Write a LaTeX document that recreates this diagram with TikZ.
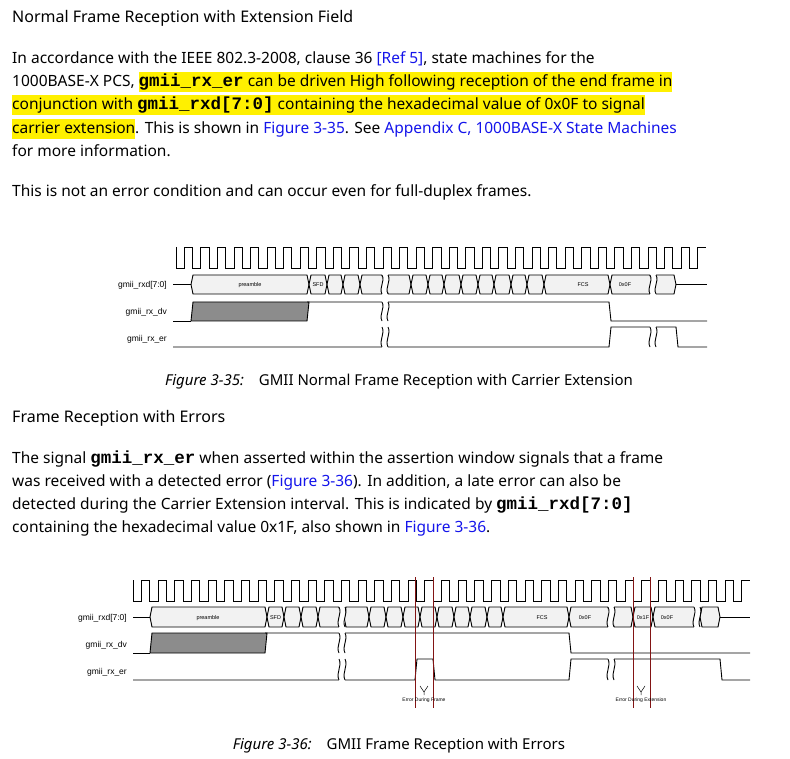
\documentclass[tikz,border=0pt]{standalone}
\usepackage{fontspec}
\setmainfont{Noto Sans}
\newfontfamily\monof{Liberation Mono}
\newfontfamily\diagf{Liberation Sans}
\definecolor{lnk}{RGB}{20,20,235}
\definecolor{hly}{RGB}{255,240,0}
\definecolor{errred}{RGB}{130,20,20}
\definecolor{cellg}{RGB}{242,242,242}
\definecolor{darkg}{RGB}{140,140,140}
\newcommand\lk[1]{\textcolor{lnk}{#1}}
\newcommand\mono[1]{{\fontsize{17.5}{18}\monof\bfseries #1}}
\newcommand\hlt[1]{{\fboxsep=0pt\colorbox{hly}{\rule[-5.5pt]{0pt}{20pt}#1}}}
\tikzset{
  sig/.style={line width=0.9pt,line join=miter},
  cellst/.style={sig,fill=cellg},
  txt/.style={anchor=base west,inner sep=0pt,font=\fontsize{15.5}{18}\selectfont},
  figcap/.style={anchor=base,inner sep=0pt,font=\fontsize{15}{18}\selectfont},
  siglab/.style={anchor=east,inner sep=0pt,font=\diagf\fontsize{8.5}{10}\selectfont},
  celllab/.style={inner sep=0pt,font=\diagf\fontsize{5.5}{6}\selectfont},
  errlab/.style={anchor=base,inner sep=0pt,font=\diagf\fontsize{5}{6}\selectfont},
  errline/.style={errred,line width=0.8pt}
}
\newcommand\tdcell[5]{\filldraw[cellst] (#1,#4)--({#1+2},#3)--({#2-2},#3)--(#2,#4)--({#2-2},#5)--({#1+2},#5)--cycle;}
\newcommand\tdbrk[3]{%
  \fill[white] ({#1},{#2-1}) rectangle ({#1+6},{#3+1});
  \draw[sig] (#1,#2) .. controls ({#1+3.5},{#2+(#3-#2)*0.35}) and ({#1-3.5},{#2+(#3-#2)*0.65}) .. (#1,#3);
  \draw[sig] ({#1+6},#2) .. controls ({#1+9.5},{#2+(#3-#2)*0.35}) and ({#1+2.5},{#2+(#3-#2)*0.65}) .. ({#1+6},#3);}
\newcommand\tdclk[5]{\draw[sig] (#1,#2) foreach \i in {1,...,#4}{ -- ++(0,{#3-#2}) -- ++(#5,0) -- ++(0,{#2-#3}) -- ++(#5,0)};}
\begin{document}
\begin{tikzpicture}[x=1pt,y=-1pt]
\useasboundingbox[fill=white] (0,0) rectangle (790,759);
% ---------- text block 1
\node[txt,font=\fontsize{16}{18}\selectfont\bfseries] (t1) at (12,23) {Normal Frame Reception with Extension Field};
\node[txt] (p1) at (12,64) {In accordance with the IEEE 802.3-2008, clause 36 \lk{[Ref 5]}, state machines for the};
\node[txt] (p2) at (12,87) {1000BASE-X PCS, \hlt{\mono{gmii\_rx\_er} can be driven High following reception of the end frame in}};
\node[txt] (p3) at (12,110) {\hlt{conjunction with \mono{gmii\_rxd[7:0]} containing the hexadecimal value of 0x0F to signal}};
\node[txt] (p4) at (12,134) {\hlt{carrier extension}. This is shown in \lk{Figure 3-35}. See \lk{Appendix C, 1000BASE-X State Machines}};
\node[txt] (p5) at (12,157) {for more information.};
\node[txt] (p6) at (12,197) {This is not an error condition and can occur even for full-duplex frames.};
% ---------- diagram 1
\tdclk{176}{247}{268}{32}{8.28}
\node[siglab] (l1a) at (167,285) {gmii\_rxd[7:0]};
\node[siglab] (l1b) at (167,312) {gmii\_rx\_dv};
\node[siglab] (l1c) at (167,339) {gmii\_rx\_er};
\draw[sig] (173,284.5) -- (191,284.5);
\tdcell{191}{309}{275}{284.5}{294}
\tdcell{309}{327}{275}{284.5}{294}
\tdcell{327}{343}{275}{284.5}{294}
\tdcell{343}{360}{275}{284.5}{294}
\tdcell{360}{384}{275}{284.5}{294}
\tdcell{386}{411}{275}{284.5}{294}
\foreach \a/\b in {411/428,428/444,444/461,461/478,478/494,494/511,511/527,527/544}{\tdcell{\a}{\b}{275}{284.5}{294}}
\tdcell{544}{610}{275}{284.5}{294}
\tdcell{610}{652}{275}{284.5}{294}
\tdcell{653}{676}{275}{284.5}{294}
\draw[sig] (676,284.5) -- (707,284.5);
\tdbrk{382}{275}{294}
\tdbrk{650}{275}{294}
\node[celllab] (c1) at (250,285) {preamble};
\node[celllab] (c2) at (318,285) {SFD};
\node[celllab] (c3) at (583,285) {FCS};
\node[celllab] (c4) at (625,285) {0x0F};
\filldraw[sig,fill=darkg] (191,321) -- (193,302) -- (309,302) -- (307,321) -- cycle;
\draw[sig] (173,321) -- (191,321);
\draw[sig] (307,302) -- (609,302) -- (611,321) -- (707,321);
\tdbrk{382}{302}{321}
\draw[sig] (173,347) -- (609,347) -- (611,327) -- (676,327) -- (678,347) -- (707,347);
\tdbrk{382}{327}{347}
\tdbrk{650}{327}{347}
\node[figcap] (cap1) at (399,385) {\textit{Figure 3-35:}\quad\textbf{GMII Normal Frame Reception with Carrier Extension}};
% ---------- text block 2
\node[txt,font=\fontsize{16}{18}\selectfont\bfseries] (t2) at (12,422) {Frame Reception with Errors};
\node[txt] (q1) at (12,463) {The signal \mono{gmii\_rx\_er} when asserted within the assertion window signals that a frame};
\node[txt] (q2) at (12,486) {was received with a detected error (\lk{Figure 3-36}). In addition, a late error can also be};
\node[txt] (q3) at (12,509) {detected during the Carrier Extension interval. This is indicated by \mono{gmii\_rxd[7:0]}};
\node[txt] (q4) at (12,532) {containing the hexadecimal value 0x1F, also shown in \lk{Figure 3-36}.};
% ---------- diagram 2
\tdclk{133}{580}{601}{37}{8.34}
\node[siglab] (l2a) at (127,618) {gmii\_rxd[7:0]};
\node[siglab] (l2b) at (127,645) {gmii\_rx\_dv};
\node[siglab] (l2c) at (127,672) {gmii\_rx\_er};
\draw[sig] (133,617) -- (150,617);
\tdcell{150}{267}{607}{617}{627}
\tdcell{267}{284}{607}{617}{627}
\tdcell{284}{301}{607}{617}{627}
\tdcell{301}{318}{607}{617}{627}
\tdcell{318}{341}{607}{617}{627}
\tdcell{344}{369}{607}{617}{627}
\foreach \a/\b in {369/386,386/403,403/420,420/437,437/454,454/470,470/487,487/503}{\tdcell{\a}{\b}{607}{617}{627}}
\tdcell{503}{569}{607}{617}{627}
\tdcell{569}{610}{607}{617}{627}
\tdcell{612}{633}{607}{617}{627}
\tdcell{633}{653}{607}{617}{627}
\tdcell{653}{698}{607}{617}{627}
\tdcell{700}{720}{607}{617}{627}
\draw[sig] (720,617) -- (750,617);
\tdbrk{339}{607}{627}
\tdbrk{608}{607}{627}
\tdbrk{694}{607}{627}
\node[celllab] (d1) at (208,618) {preamble};
\node[celllab] (d2) at (275.5,618) {SFD};
\node[celllab] (d3) at (542,618) {FCS};
\node[celllab] (d4) at (585,618) {0x0F};
\node[celllab] (d5) at (643,618) {0x1F};
\node[celllab] (d6) at (667,618) {0x0F};
\filldraw[sig,fill=darkg] (150,653) -- (152,633) -- (267,633) -- (265,653) -- cycle;
\draw[sig] (133,653) -- (150,653);
\draw[sig] (265,633) -- (569,633) -- (571,653) -- (750,653);
\tdbrk{339}{633}{653}
\draw[sig] (133,680) -- (415,680) -- (417,659) -- (433,659) -- (435,680) -- (569,680) -- (571,659) -- (720,659) -- (722,680) -- (750,680);
\tdbrk{339}{659}{680}
\tdbrk{608}{659}{680}
\foreach \x in {415,433,633,650}{\draw[errline] (\x,577) -- (\x,708);}
\draw[line width=0.5pt] (420,686) -- (424,692) -- (428,686) (424,692) -- (424,695);
\draw[line width=0.5pt] (637,686) -- (641,692) -- (645,686) (641,692) -- (641,695);
\node[errlab] (e1) at (424,701) {Error During Frame};
\node[errlab] (e2) at (641,701) {Error During Extension};
\node[figcap] (cap2) at (399,749) {\textit{Figure 3-36:}\quad\textbf{GMII Frame Reception with Errors}};
\end{tikzpicture}
\end{document}
